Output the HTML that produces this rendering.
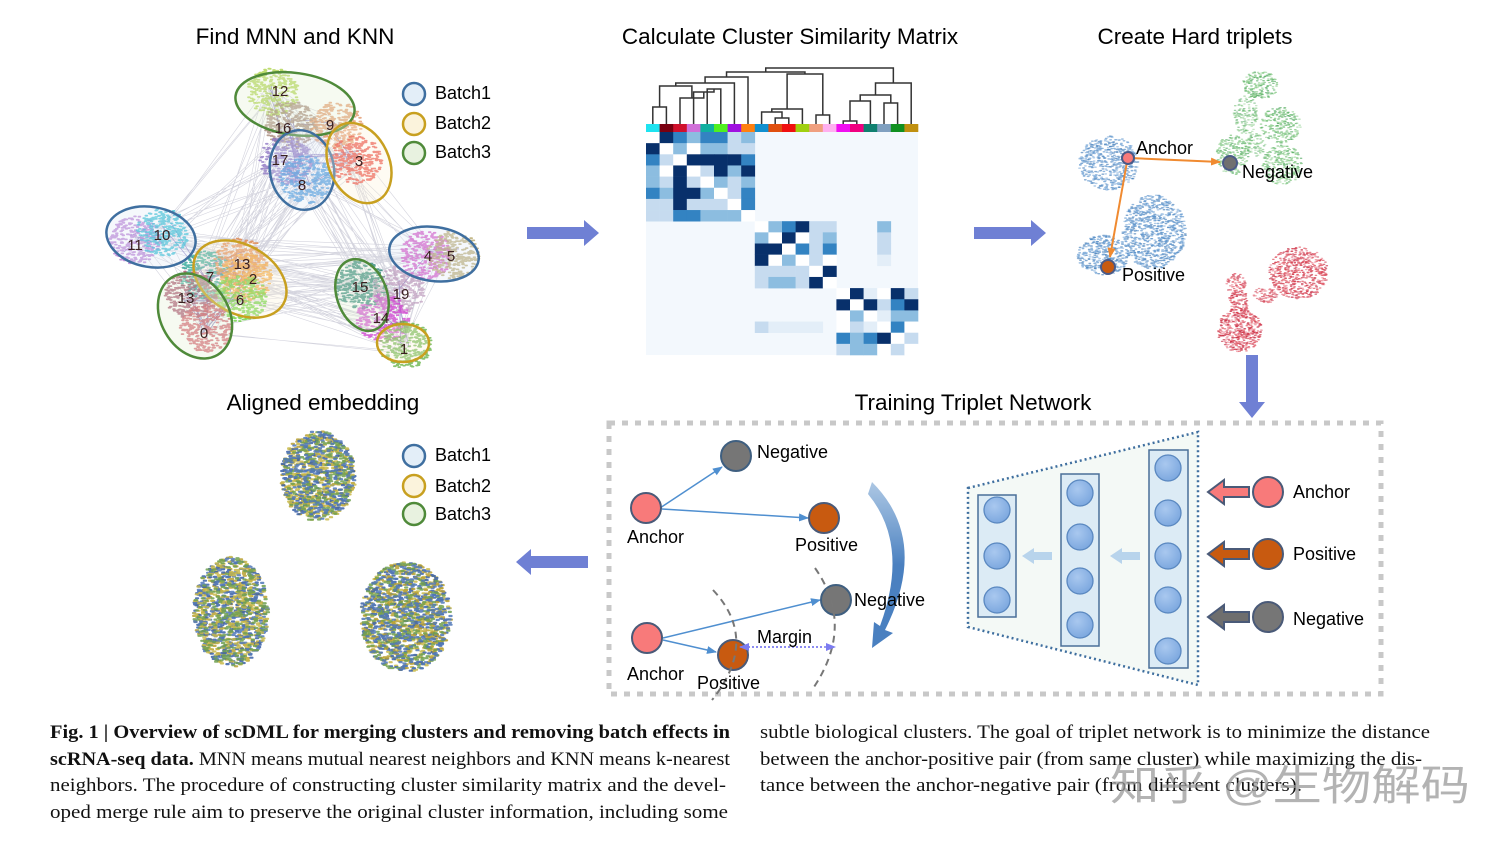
<!DOCTYPE html>
<html><head><meta charset="utf-8"><style>
html,body{margin:0;padding:0;background:#fff;}
svg{display:block;}
text{font-family:"Liberation Sans",sans-serif;}
.cap{font-family:"Liberation Serif",serif;font-size:19px;fill:#111;}
</style></head><body>
<svg id="s" width="1508" height="846" viewBox="0 0 1508 846" xmlns="http://www.w3.org/2000/svg">
<defs>
<marker id="ab" markerWidth="10" markerHeight="8" refX="9" refY="4" orient="auto" markerUnits="userSpaceOnUse"><path d="M0,0 L10,4 L0,8 z" fill="#4f8fd0"/></marker>
<marker id="ao" markerWidth="10" markerHeight="8" refX="9" refY="4" orient="auto" markerUnits="userSpaceOnUse"><path d="M0,0 L10,4 L0,8 z" fill="#f08a30"/></marker>
<marker id="ap" markerWidth="10" markerHeight="8" refX="9" refY="4" orient="auto" markerUnits="userSpaceOnUse"><path d="M0,0 L10,4 L0,8 z" fill="#7c7cf0"/></marker>
<linearGradient id="cg" x1="0" y1="0" x2="0" y2="1"><stop offset="0" stop-color="#5a8fc8" stop-opacity="0.5"/><stop offset="0.5" stop-color="#4a80c0"/><stop offset="1" stop-color="#4a80c0"/></linearGradient>
<radialGradient id="nc" cx="0.4" cy="0.35" r="0.7"><stop offset="0" stop-color="#a9c8ef"/><stop offset="1" stop-color="#7aa6de"/></radialGradient>
</defs>
<g id="left"></g>
<g id="mat"></g>
<g id="right"></g>
<g id="emb"></g>

<g font-size="22.5" text-anchor="middle">
<text x="295" y="44">Find MNN and KNN</text>
<text x="790" y="44">Calculate Cluster Similarity Matrix</text>
<text x="1195" y="44">Create Hard triplets</text>
<text x="323" y="410">Aligned embedding</text>
<text x="973" y="410">Training Triplet Network</text>
</g>

<g font-size="18">
<circle cx="414" cy="94" r="11" fill="#e3eef8" stroke="#3f6fa0" stroke-width="2.5"/><text x="435" y="99">Batch1</text>
<circle cx="414" cy="124" r="11" fill="#fbf3dc" stroke="#c8a020" stroke-width="2.5"/><text x="435" y="129">Batch2</text>
<circle cx="414" cy="153" r="11" fill="#e8f2e0" stroke="#4f8a3a" stroke-width="2.5"/><text x="435" y="158">Batch3</text>
<circle cx="414" cy="456" r="11" fill="#e3eef8" stroke="#3f6fa0" stroke-width="2.5"/><text x="435" y="461">Batch1</text>
<circle cx="414" cy="486" r="11" fill="#fbf3dc" stroke="#c8a020" stroke-width="2.5"/><text x="435" y="492">Batch2</text>
<circle cx="414" cy="514" r="11" fill="#e8f2e0" stroke="#4f8a3a" stroke-width="2.5"/><text x="435" y="520">Batch3</text>
</g>

<path d="M527,227 L584,227 L584,220 L599,233 L584,246 L584,239 L527,239 z" fill="#6f80d4"/>
<path d="M974,227 L1031,227 L1031,220 L1046,233 L1031,246 L1031,239 L974,239 z" fill="#6f80d4"/>
<path d="M1246,355 L1258,355 L1258,402 L1265,402 L1252,418 L1239,402 L1246,402 z" fill="#6f80d4"/>
<path d="M588,556 L531,556 L531,549 L516,562 L531,575 L531,568 L588,568 z" fill="#6f80d4"/>

<rect x="609" y="423" width="772" height="271" fill="none" stroke="#c8c8c8" stroke-width="5" stroke-dasharray="6,7"/>

<g stroke="#4f8fd0" stroke-width="1.5" fill="none">
<line x1="660" y1="508" x2="722" y2="467" marker-end="url(#ab)"/>
<line x1="662" y1="509" x2="808" y2="518" marker-end="url(#ab)"/>
<line x1="663" y1="638" x2="820" y2="600" marker-end="url(#ab)"/>
<line x1="663" y1="640" x2="716" y2="652" marker-end="url(#ab)"/>
</g>
<circle cx="736" cy="456" r="15" fill="#767676" stroke="#3f5f80" stroke-width="2"/>
<circle cx="646" cy="508" r="15" fill="#f87a7a" stroke="#4a5a78" stroke-width="2"/>
<circle cx="824" cy="518" r="15" fill="#c85a10" stroke="#4a5a78" stroke-width="2"/>
<circle cx="647" cy="638" r="15" fill="#f87a7a" stroke="#4a5a78" stroke-width="2"/>
<circle cx="733" cy="655" r="15" fill="#c85a10" stroke="#4a5a78" stroke-width="2"/>
<circle cx="836" cy="600" r="15" fill="#767676" stroke="#3f5f80" stroke-width="2"/>
<path d="M713,590 Q760,640 712,700" fill="none" stroke="#777" stroke-width="2" stroke-dasharray="7,5"/>
<path d="M815,568 Q855,625 814,687" fill="none" stroke="#777" stroke-width="2" stroke-dasharray="7,5"/>
<line x1="748" y1="647" x2="835" y2="647" stroke="#7c7cf0" stroke-width="1.5" stroke-dasharray="2,2" marker-end="url(#ap)"/>
<line x1="822" y1="647" x2="740" y2="647" stroke="#7c7cf0" stroke-width="1.5" stroke-dasharray="2,2" marker-end="url(#ap)"/>
<path d="M872,482 Q930,540 885,630 L893,633 L872,648 L874,622 L880,626 Q910,545 868,494 z" fill="url(#cg)"/>
<g font-size="18">
<text x="757" y="458">Negative</text>
<text x="627" y="543">Anchor</text>
<text x="795" y="551">Positive</text>
<text x="854" y="606">Negative</text>
<text x="757" y="643">Margin</text>
<text x="627" y="680">Anchor</text>
<text x="697" y="689">Positive</text>
</g>

<polygon points="968,488 1198,432 1198,685 968,627" fill="#f4f9f6" stroke="#3f6f9f" stroke-width="2.5" stroke-dasharray="2,3"/>
<g fill="#dcebf5" stroke="#4a6f98" stroke-width="1.5">
<rect x="978" y="495" width="38" height="122"/>
<rect x="1061" y="474" width="38" height="172"/>
<rect x="1149" y="450" width="39" height="218"/>
</g>
<g fill="url(#nc)" stroke="#5a88c0" stroke-width="1.3" id="nodes"></g>
<path d="M1052,552 L1034,552 L1034,548 L1022,556 L1034,564 L1034,560 L1052,560 z" fill="#b8d4ec"/>
<path d="M1140,552 L1122,552 L1122,548 L1110,556 L1122,564 L1122,560 L1140,560 z" fill="#b8d4ec"/>
<g stroke="#4a5a78" stroke-width="2">
<path d="M1249,487 L1224,487 L1224,480 L1208,492 L1224,504 L1224,497 L1249,497 z" fill="#f87a7a"/>
<path d="M1249,549 L1224,549 L1224,542 L1208,554 L1224,566 L1224,559 L1249,559 z" fill="#c85a10"/>
<path d="M1249,612 L1224,612 L1224,605 L1208,617 L1224,629 L1224,622 L1249,622 z" fill="#6e6e6e"/>
<circle cx="1268" cy="492" r="15" fill="#f87a7a"/>
<circle cx="1268" cy="554" r="15" fill="#c85a10"/>
<circle cx="1268" cy="617" r="15" fill="#767676"/>
</g>
<g font-size="18">
<text x="1293" y="498">Anchor</text>
<text x="1293" y="560">Positive</text>
<text x="1293" y="625">Negative</text>
</g>

<text class="cap" x="50" y="738" textLength="680" lengthAdjust="spacingAndGlyphs" font-weight="bold">Fig. 1 | Overview of scDML for merging clusters and removing batch effects in</text>
<text class="cap" x="50" y="765" textLength="680" lengthAdjust="spacingAndGlyphs"><tspan font-weight="bold">scRNA-seq data.</tspan> MNN means mutual nearest neighbors and KNN means k-nearest</text>
<text class="cap" x="50" y="791" textLength="676" lengthAdjust="spacingAndGlyphs">neighbors. The procedure of constructing cluster similarity matrix and the devel-</text>
<text class="cap" x="50" y="818" textLength="678" lengthAdjust="spacingAndGlyphs">oped merge rule aim to preserve the original cluster information, including some</text>
<text class="cap" x="760" y="738" textLength="670" lengthAdjust="spacingAndGlyphs">subtle biological clusters. The goal of triplet network is to minimize the distance</text>
<text class="cap" x="760" y="765" textLength="662" lengthAdjust="spacingAndGlyphs">between the anchor-positive pair (from same cluster) while maximizing the dis-</text>
<text class="cap" x="760" y="791" textLength="542" lengthAdjust="spacingAndGlyphs">tance between the anchor-negative pair (from different clusters).</text>
<text x="1110" y="800" font-size="42" fill="#9a9a9a" fill-opacity="0.75" textLength="360" lengthAdjust="spacingAndGlyphs" font-family="'Liberation Sans','Noto Sans CJK SC',sans-serif">知乎 @生物解码</text>
</svg>
<script>
var NS="http://www.w3.org/2000/svg";
var seed=7;function R(){seed=(seed*16807)%2147483647;return (seed-1)/2147483646;}
function G(){return (R()+R()+R()-1.5)/1.5;}
function el(p,t,a){var e=document.createElementNS(NS,t);for(var k in a)e.setAttribute(k,a[k]);p.appendChild(e);return e;}
var nd=document.getElementById('nodes');
[[997,[510,556,600]],[1080,[493,537,581,625]],[1168,[468,513,556,600,651]]].forEach(function(c){c[1].forEach(function(y){el(nd,'circle',{cx:c[0],cy:y,r:13});});});
function blob(g,cx,cy,rx,ry,n,cols,r,op){var byc={};for(var i=0;i<n;i++){var a=R()*6.283,d=Math.sqrt(R());var x=cx+Math.cos(a)*rx*d,y=cy+Math.sin(a)*ry*d;var c=cols[Math.floor(R()*cols.length)];(byc[c]=byc[c]||[]).push(x.toFixed(1)+' '+y.toFixed(1));}
for(var c in byc){var p='';byc[c].forEach(function(q){p+='M'+q+'h'+r;});el(g,'path',{d:p,stroke:c,'stroke-width':r,'stroke-linecap':'round','stroke-opacity':op,fill:'none'});}}
var L=document.getElementById('left');
var cl=[[272,92,'#a8d040'],[290,125,'#a08070'],[335,125,'#e09060'],[355,160,'#e83a30'],[285,160,'#8a70c0'],[305,180,'#3a90d8'],[135,240,'#b070d0'],[162,232,'#20b8d0'],[205,275,'#20a090'],[240,262,'#e08040'],[245,278,'#f0a030'],[240,298,'#60d030'],[190,295,'#a04060'],[205,328,'#d05060'],[360,285,'#208070'],[398,290,'#c0a0c0'],[382,318,'#d040d0'],[405,345,'#60b040'],[425,255,'#d040c0'],[452,255,'#b0a060']];
var p='';for(var i=0;i<260;i++){var a=cl[Math.floor(R()*cl.length)],b=cl[Math.floor(R()*cl.length)];p+='M'+(a[0]+G()*15).toFixed(0)+' '+(a[1]+G()*15).toFixed(0)+'L'+(b[0]+G()*15).toFixed(0)+' '+(b[1]+G()*15).toFixed(0);}
el(L,'path',{d:p,stroke:'#b8b8c8','stroke-width':0.6,'stroke-opacity':0.6,fill:'none'});
var p2='';for(var i=0;i<300;i++){var a=cl[Math.floor(R()*cl.length)];var b=cl[Math.floor(R()*cl.length)];if(Math.abs(a[0]-b[0])+Math.abs(a[1]-b[1])>90)continue;p2+='M'+(a[0]+G()*15).toFixed(0)+' '+(a[1]+G()*15).toFixed(0)+'L'+(b[0]+G()*15).toFixed(0)+' '+(b[1]+G()*15).toFixed(0);}
el(L,'path',{d:p2,stroke:'#6050b0','stroke-width':0.8,'stroke-opacity':0.6,fill:'none'});
cl.forEach(function(c){blob(L,c[0],c[1],26,24,260,[c[2]],1.8,0.75);});
function ell(cx,cy,rx,ry,rot,st,fl){el(L,'ellipse',{cx:cx,cy:cy,rx:rx,ry:ry,transform:'rotate('+rot+' '+cx+' '+cy+')',fill:fl,'fill-opacity':0.3,stroke:st,'stroke-width':2.5});}
var B='#3f6fa0',Y='#c8a020',Gr='#4f8a3a';
ell(295,104,60,31,8,Gr,'#e0f0d0');ell(302,170,32,40,-10,B,'#dde8f5');ell(359,163,30,42,-25,Y,'#fbf2d8');
ell(151,237,45,30,10,B,'#dde8f5');ell(240,279,50,34,30,Y,'#fbf2d8');ell(195,316,34,45,-30,Gr,'#e0f0d0');
ell(362,295,25,37,-20,Gr,'#e0f0d0');ell(434,254,45,27,8,B,'#dde8f5');ell(403,343,26,19,0,Y,'#fbf2d8');
var lab=[[280,96,'12'],[283,133,'16'],[330,130,'9'],[359,166,'3'],[280,165,'17'],[302,190,'8'],[162,240,'10'],[135,250,'11'],[210,282,'7'],[242,269,'13'],[253,284,'2'],[240,305,'6'],[186,303,'13'],[204,338,'0'],[360,292,'15'],[401,299,'19'],[381,323,'14'],[404,354,'1'],[428,261,'4'],[451,261,'5']];
lab.forEach(function(l){var t=el(L,'text',{x:l[0],y:l[1],'font-size':15,'text-anchor':'middle',fill:'#3a2020'});t.textContent=l[2];});
var M=document.getElementById('mat');var x0=646,y0=132,cw=13.6,rh=11.15;
var cols=['#1ee3f0','#7a0010','#d0102c','#d070d8','#10b0a0','#50f020','#a010e0','#ff8010','#1090d0','#e05010','#f01010','#a0d010','#f0a080','#ffb0f0','#f010f0','#f00080','#108070','#80a0c0','#109020','#c09010'];
cols.forEach(function(c,i){el(M,'rect',{x:x0+i*cw,y:124,width:cw+0.3,height:8,fill:c});});
el(M,'rect',{x:x0,y:y0,width:20*cw,height:20*rh,fill:'#f3f8fd'});
var pal=['#f3f8fd','#c6dbef','#8cbde0','#3383c2','#08306b'];
function put(r,c,v){var f;if(v===-1)f='#ffffff';else if(v<1){f=v>0?'#e3eef8':pal[0];}else f=pal[Math.round(v)];el(M,'rect',{x:x0+c*cw,y:y0+r*rh,width:cw+0.3,height:rh+0.3,fill:f});}
var b1=[[0,4,3,2,3,3,1,2],[4,0,2,0,2,2,1,1],[3,1,0,4,4,4,4,3],[2,0,4,0,1,4,2,4],[2,1,4,1,0,2,1,2],[3,2,4,4,2,0,1,3],[1,1,4,1,1,1,0,3],[1,1,3,3,2,2,2,0]];
b1.forEach(function(r,i){r.forEach(function(v,j){put(i,j,i==j?-1:(v==0?-1:v));});});
var b2=[[0,2,3,4,1,1],[2,0,4,0,1,2],[4,4,0,3,1,3],[4,0,2,0,1,0],[1,1,1,1,0,4],[1,2,2,1,4,0]];
b2.forEach(function(r,i){r.forEach(function(v,j){put(8+i,8+j,i==j?-1:(v==0?-1:v));});});
[[8,2],[9,1],[10,1],[11,0.5]].forEach(function(q){put(q[0],17,q[1]);});
var b3=[[0,4,0.5,0,4,1],[4,0,4,1,3,4],[0,2,0,0.5,2,2],[0,1,0.5,0,3,0],[3,2,3,4,0,1],[1,2,2,0,1,0]];
b3.forEach(function(r,i){r.forEach(function(v,j){put(14+i,14+j,i==j?-1:(v==0?-1:v));});});
[[17,8,1],[17,9,0.5],[17,10,0.5],[17,11,0.5],[17,12,0.5]].forEach(function(q){put(q[0],q[1],q[2]);});
function cx(i){return x0+cw*i+cw/2;}
var dp='';function U(a,ya,b,yb,h){dp+='M'+a+' '+ya+'V'+h+'H'+b+'V'+yb;return (a+b)/2;}
var Y0=124;
var n01=U(cx(0),Y0,cx(1),Y0,107);
var n45=U(cx(4),Y0,cx(5),Y0,89);
var n345=U(cx(3),Y0,n45,89,92);
var n2=U(cx(2),Y0,n345,92,98);
var nA=U(n01,107,n2,98,86);
var nB=U(nA,86,cx(6),Y0,83);
var nC=U(nB,83,cx(7),Y0,77);
var n910=U(cx(9),Y0,cx(10),Y0,118);
var n8=U(cx(8),Y0,n910,118,112);
var n11=U(n8,112,cx(11),Y0,109);
var n1213=U(cx(12),Y0,cx(13),Y0,115);
var nD=U(n11,109,n1213,115,74);
var nE=U(nC,77,nD,74,72);
var n1415=U(cx(14),Y0,cx(15),Y0,121);
var n16=U(n1415,121,cx(16),Y0,101);
var n1718=U(cx(17),Y0,cx(18),Y0,103);
var nF=U(n16,101,n1718,103,95);
var nG=U(nF,95,cx(19),Y0,83);
U(nE,72,nG,83,68);
el(M,'path',{d:dp,stroke:'#333','stroke-width':1.5,fill:'none'});
var Rg=document.getElementById('right');
var bl=['#4a88c8','#7aa8d8','#3070b0'],gr=['#60b860','#90d090','#40a050'],rd=['#d83040','#e87080','#c01830'];
blob(Rg,1108,163,30,27,500,bl,1.4,0.6);blob(Rg,1153,232,32,37,800,bl,1.4,0.6);blob(Rg,1103,255,26,20,350,bl,1.4,0.6);
blob(Rg,1260,85,18,14,180,gr,1.3,0.6);blob(Rg,1245,115,12,20,140,gr,1.3,0.5);blob(Rg,1280,125,20,18,250,gr,1.3,0.6);
blob(Rg,1232,155,16,20,220,gr,1.3,0.6);blob(Rg,1282,165,20,20,250,gr,1.3,0.6);blob(Rg,1255,145,10,12,80,gr,1.3,0.5);
blob(Rg,1298,273,30,26,600,rd,1.3,0.6);blob(Rg,1235,285,10,12,80,rd,1.3,0.6);blob(Rg,1239,330,22,22,450,rd,1.3,0.6);blob(Rg,1238,303,10,14,100,rd,1.3,0.6);blob(Rg,1265,295,12,8,80,rd,1.3,0.5);
el(Rg,'line',{x1:1130,y1:158,x2:1220,y2:162,stroke:'#f08a30','stroke-width':2,'marker-end':'url(#ao)'});
el(Rg,'line',{x1:1127,y1:162,x2:1110,y2:257,stroke:'#f08a30','stroke-width':2,'marker-end':'url(#ao)'});
el(Rg,'circle',{cx:1128,cy:158,r:6,fill:'#f87a7a',stroke:'#4a5a88','stroke-width':2});
el(Rg,'circle',{cx:1230,cy:163,r:7,fill:'#707070',stroke:'#4a5a88','stroke-width':2});
el(Rg,'circle',{cx:1108,cy:267,r:7,fill:'#c85a10',stroke:'#4a5a88','stroke-width':2});
[[1136,154,'Anchor'],[1242,178,'Negative'],[1122,281,'Positive']].forEach(function(l){var t=el(Rg,'text',{x:l[0],y:l[1],'font-size':18});t.textContent=l[2];});
var E=document.getElementById('emb');var ec=['#3a60a8','#b8a030','#70a050','#c8b848','#5078b8'];
blob(E,317,476,37,45,1100,ec,2.2,0.85);blob(E,230,612,37,55,1300,ec,2.2,0.85);blob(E,405,617,45,55,1500,ec,2.2,0.85);
</script>
</body></html>
